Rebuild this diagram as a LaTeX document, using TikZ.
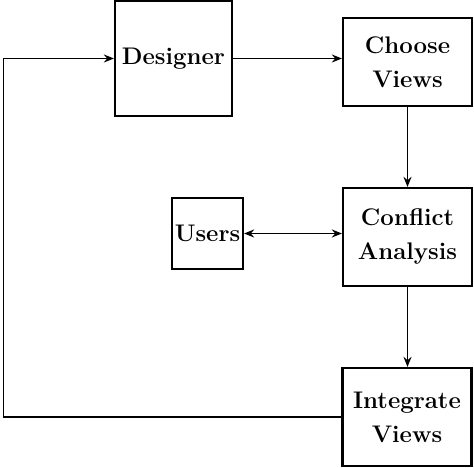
\documentclass[tikz,border=0pt]{standalone}
\usetikzlibrary{arrows.meta}
\begin{document}
\begin{tikzpicture}[x=1pt,y=1pt,
  box/.style={draw,line width=2.2pt,inner sep=0pt,align=center,
    font=\fontsize{24}{34}\selectfont\bfseries},
  arr/.style={line width=1.8pt,-{Stealth[length=10pt,width=8pt]}},
  dbl/.style={line width=1.8pt,{Stealth[length=10pt,width=8pt]}-{Stealth[length=10pt,width=8pt]}},
  ln/.style={line width=1.8pt}]
\useasboundingbox (0,0) rectangle (474,468);
\node[box,minimum width=117,minimum height=115] (designer) at (173.5,409.5) {Designer};
\node[box,minimum width=129,minimum height=88] (choose) at (407.5,406) {Choose\\Views};
\node[box,minimum width=129,minimum height=98] (conflict) at (407.5,231) {Conflict\\Analysis};
\node[box,minimum width=71,minimum height=71] (users) at (207.5,234.5) {Users};
\node[box,minimum width=129,minimum height=98] (integrate) at (407,51) {Integrate\\Views};
\coordinate (leftx) at (3.5,0);
\draw[arr] (designer.east) -- (designer.east -| choose.west);
\draw[arr] (choose.south) -- (conflict.north);
\draw[arr] (conflict.south) -- (conflict.south |- integrate.north);
\draw[dbl] (users.east) -- (users.east -| conflict.west);
\draw[ln] (integrate.west) -- (integrate.west -| leftx) -- (designer.west -| leftx);
\draw[arr] (designer.west -| leftx) -- (designer.west);
\end{tikzpicture}
\end{document}
